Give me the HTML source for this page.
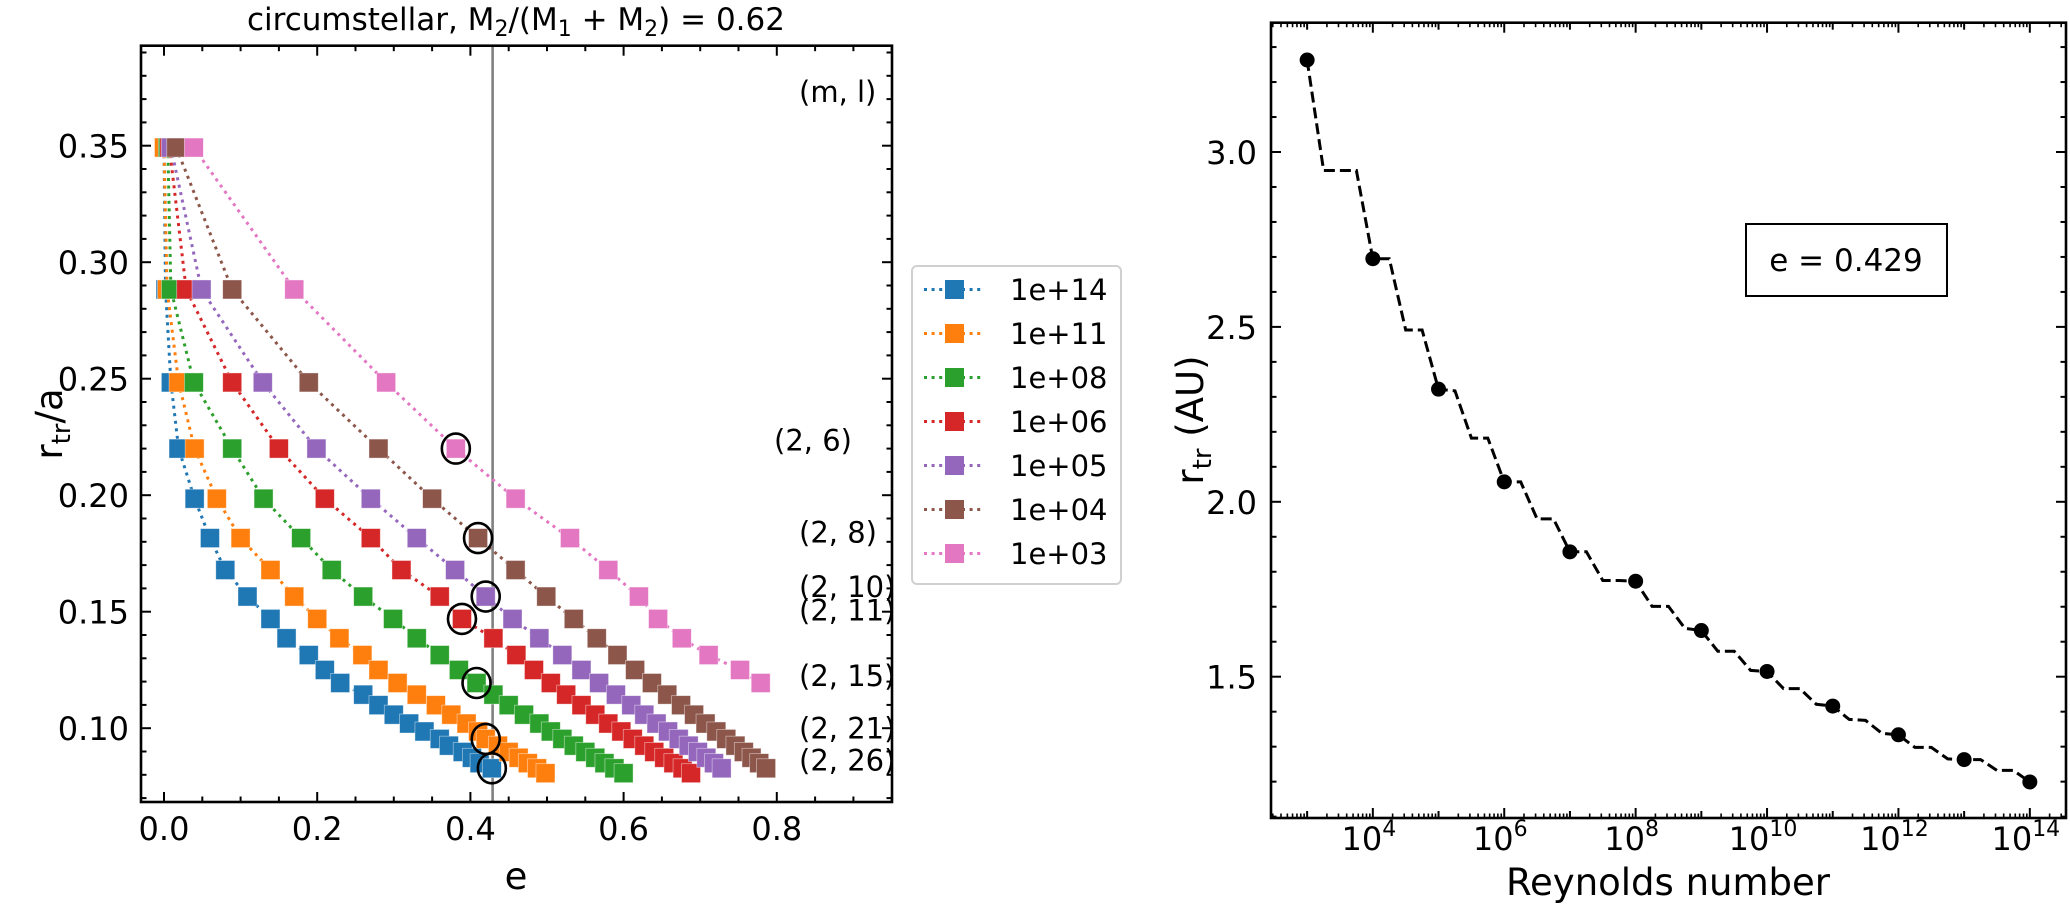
<!DOCTYPE html>
<html><head><meta charset="utf-8"><title>chart</title>
<style>
html,body{margin:0;padding:0;background:#fff;}
svg{display:block;font-family:"DejaVu Sans","Liberation Sans",sans-serif;}
</style></head>
<body>
<svg id="fig" width="2070" height="904" viewBox="0 0 2070 904" xmlns="http://www.w3.org/2000/svg">
<rect x="0" y="0" width="2070" height="904" fill="#fff"/>
<g id="left"></g>
<g id="right"></g>
</svg>
<script>
// ---------- Left chart data ----------
const lValues = [3,4,5,6,7,8,9,10,11,12,13,14,15,16,17,18,19,20,21,22,23,24,25,26,27];
const rLevels = [0.3492,0.2883,0.2484,0.2200,0.1985,0.1816,0.1679,0.1565,0.1469,0.1386,0.1314,0.1250,0.1194,0.1144,0.1099,0.1058,0.1020,0.0986,0.0954,0.0925,0.0898,0.0873,0.0850,0.0828,0.0807];
const seriesNames = ["1e+14","1e+11","1e+08","1e+06","1e+05","1e+04","1e+03"];
const eBlue   = [0.000,0.002,0.009,0.019,0.040,0.060,0.080,0.109,0.139,0.160,0.189,0.210,0.230,0.260,0.280,0.300,0.320,0.340,0.360,0.372,0.390,0.402,0.412,0.428];
const eOrange = [0.000,0.004,0.019,0.040,0.069,0.100,0.139,0.170,0.200,0.229,0.259,0.280,0.305,0.330,0.355,0.375,0.395,0.410,0.420,0.436,0.450,0.463,0.475,0.487,0.498];
const eGreen  = [0.005,0.009,0.039,0.089,0.130,0.179,0.219,0.260,0.299,0.330,0.360,0.385,0.408,0.430,0.450,0.470,0.490,0.505,0.520,0.535,0.550,0.563,0.575,0.588,0.600];
const eRed    = [0.007,0.029,0.089,0.150,0.210,0.270,0.310,0.360,0.389,0.430,0.460,0.483,0.505,0.525,0.545,0.563,0.580,0.597,0.612,0.627,0.640,0.653,0.665,0.677,0.688];
const ePurple = [0.009,0.049,0.129,0.199,0.270,0.330,0.380,0.420,0.455,0.490,0.520,0.545,0.568,0.590,0.610,0.627,0.643,0.658,0.672,0.685,0.697,0.708,0.718,0.728];
const eBrown  = [0.016,0.089,0.189,0.280,0.350,0.410,0.459,0.499,0.535,0.565,0.592,0.615,0.637,0.657,0.675,0.692,0.707,0.721,0.734,0.746,0.757,0.767,0.777,0.786];
const ePink   = [0.039,0.170,0.290,0.381,0.459,0.530,0.580,0.620,0.645,0.676,0.711,0.752,0.779];
const circledSeries = [6,5,4,3,2,1,0];
const circledL = [6,8,10,11,15,21,26];
const annoText = ["(m, l)","(2, 6)","(2, 8)","(2, 10)","(2, 11)","(2, 15)","(2, 21)","(2, 26)"];
const annoR = [0.373,0.2235,0.184,0.1605,0.1505,0.1225,0.0998,0.0861];
const eVline = 0.429;
const xTicksL = [0.0,0.2,0.4,0.6,0.8];
const yTicksL = [0.10,0.15,0.20,0.25,0.30,0.35];

// ---------- Right chart data ----------
const reLog = [3,4,5,6,7,8,9,10,11,12,13,14];
const rtrPoints = [3.263,2.695,2.322,2.057,1.857,1.773,1.632,1.515,1.416,1.334,1.263,1.199];
const stepLog = [3,3.25,3.5,3.75,4,4.25,4.5,4.75,5,5.25,5.5,5.75,6,6.25,6.5,6.75,7,7.25,7.5,7.75,8,8.25,8.5,8.75,9,9.25,9.5,9.75,10,10.25,10.5,10.75,11,11.25,11.5,11.75,12,12.25,12.5,12.75,13,13.25,13.5,13.75,14];
const stepVals = [3.263,2.947,2.947,2.947,2.695,2.695,2.491,2.491,2.322,2.317,2.182,2.182,2.057,2.057,1.951,1.951,1.857,1.857,1.775,1.775,1.773,1.701,1.701,1.638,1.632,1.573,1.573,1.518,1.515,1.466,1.466,1.421,1.416,1.378,1.375,1.338,1.334,1.298,1.298,1.265,1.263,1.263,1.232,1.232,1.199];
const xTicksR = [4,6,8,10,12,14];
const yTicksR = [1.5,2.0,2.5,3.0];

const NS = "http://www.w3.org/2000/svg";
function mk(parent, tag, attrs, text){
  const el = document.createElementNS(NS, tag);
  for (const k in attrs) el.setAttribute(k, attrs[k]);
  if (text !== undefined) el.textContent = text;
  parent.appendChild(el);
  return el;
}
const colors = ["#1f77b4","#ff7f0e","#2ca02c","#d62728","#9467bd","#8c564b","#e377c2"];
const allE = [eBlue,eOrange,eGreen,eRed,ePurple,eBrown,ePink];

// ---------- Left axes ----------
const L = document.getElementById("left");
const LX0=141, LX1=892, LY0=45.7, LY1=802;
const X = e => 164 + e*766;
const Y = r => 145.7 + (0.35 - r)*2330;

let vl = mk(L,"line",{x1:X(eVline),x2:X(eVline),y1:LY0,y2:LY1,stroke:"#808080","stroke-width":2.6});



for (let s=0; s<allE.length; s++){
  const g = mk(L,"g",{});
  
  
  const ev = allE[s];
  let d = "";
  for (let i=0;i<ev.length;i++){ d += (i?"L":"M")+X(ev[i]).toFixed(1)+","+Y(rLevels[i]).toFixed(1); }
  const ln = mk(g,"path",{d:d,fill:"none",stroke:colors[s],"stroke-width":3,"stroke-dasharray":"3 4.6"});
  
  
  for (let i=0;i<ev.length;i++){
    const sq = mk(g,"rect",{x:X(ev[i])-9.5,y:Y(rLevels[i])-9.5,width:19,height:19,fill:colors[s],stroke:"#fff","stroke-width":0.8,"stroke-opacity":0.5});
    
    
  }
}
for (let c=0;c<circledSeries.length;c++){
  const s = circledSeries[c];
  const idx = lValues.indexOf(circledL[c]);
  const ci = mk(L,"ellipse",{cx:X(allE[s][idx]),cy:Y(rLevels[idx]),rx:14,ry:15,fill:"none",stroke:"#000","stroke-width":2.6});
  
  
}
for (let a=0;a<annoText.length;a++){
  const xx = a===1 ? 774 : 799;
  const t = mk(L,"text",{x:xx,y:Y(annoR[a])+10,"font-size":29,"text-anchor":"start",fill:"#000"},annoText[a]);
  
  
}
let fr = mk(L,"rect",{x:LX0,y:LY0,width:LX1-LX0,height:LY1-LY0,fill:"none",stroke:"#000","stroke-width":2.6});


for (let k=0; k<=19; k++){
  const vv = k*0.05;
  const major = k%4===0;
  const len = major?10:5.5;
  mk(L,"line",{x1:X(vv),x2:X(vv),y1:LY1,y2:LY1-len,stroke:"#000","stroke-width":2});
  mk(L,"line",{x1:X(vv),x2:X(vv),y1:LY0,y2:LY0+len,stroke:"#000","stroke-width":2});
}
for (const v of xTicksL){
  const t = mk(L,"text",{x:X(v),y:840,"font-size":32,"text-anchor":"middle"},v.toFixed(1));
  
  
}
for (let k=7;k<=39;k++){
  const vv=k/100;
  const y=Y(vv);
  if (y<LY0||y>LY1) continue;
  const major = k%5===0;
  const len = major?10:5.5;
  mk(L,"line",{x1:LX0,x2:LX0+len,y1:y,y2:y,stroke:"#000","stroke-width":2});
  mk(L,"line",{x1:LX1,x2:LX1-len,y1:y,y2:y,stroke:"#000","stroke-width":2});
}
for (const v of yTicksL){
  const t = mk(L,"text",{x:129,y:Y(v)+12,"font-size":32,"text-anchor":"end"},v.toFixed(2));
  
  
}
</script>
<script>
(function(){
const L=document.getElementById("left");
L.insertAdjacentHTML("beforeend",
 '<text x="516" y="30" font-size="31" text-anchor="middle">circumstellar, M<tspan font-size="22" dy="6">2</tspan><tspan dy="-6">/(M</tspan><tspan font-size="22" dy="6">1</tspan><tspan dy="-6"> + M</tspan><tspan font-size="22" dy="6">2</tspan><tspan dy="-6">) = 0.62</tspan></text>'+
 '<text x="516" y="889" font-size="37" text-anchor="middle">e</text>'+
 '<text transform="translate(62,424) rotate(-90)" font-size="37" text-anchor="middle">r<tspan font-size="26" dy="8">tr</tspan><tspan dy="-8">/a</tspan></text>');
let h='<g><rect x="912" y="266" width="209" height="318" rx="5" fill="#fff" stroke="#d0d0d0" stroke-width="2"/>';
const cols=["#1f77b4","#ff7f0e","#2ca02c","#d62728","#9467bd","#8c564b","#e377c2"];
const names=["1e+14","1e+11","1e+08","1e+06","1e+05","1e+04","1e+03"];
for(let i=0;i<7;i++){const y=289.5+i*44;
 h+='<g><line x1="924" x2="983" y1="'+y+'" y2="'+y+'" stroke="'+cols[i]+'" stroke-width="3" stroke-dasharray="3 4.6"/><rect x="945" y="'+(y-9.5)+'" width="19" height="19" fill="'+cols[i]+'"/><text x="1010" y="'+(y+10.5)+'" font-size="29">'+names[i]+'</text></g>';}
h+='</g>';
L.insertAdjacentHTML("beforeend",h);
})();
</script>
<script>
(function(){
const R = document.getElementById("right");
const NS="http://www.w3.org/2000/svg";
function mk(parent, tag, attrs, text){const el=document.createElementNS(NS,tag);for(const k in attrs)el.setAttribute(k,attrs[k]);if(text!==undefined)el.textContent=text;parent.appendChild(el);return el;}
const RX0=1271, RX1=2066, RY0=22.7, RY1=818;
const XR = lg => 1271 + (lg-2.45)*65.7;
const YR = v => 152 + (3.0 - v)*349.8;
let d="";
for(let i=0;i<stepLog.length;i++){ d+=(i?"L":"M")+XR(stepLog[i]).toFixed(1)+","+YR(stepVals[i]).toFixed(1); }
const ln = mk(R,"path",{d:d,fill:"none",stroke:"#000","stroke-width":3,"stroke-dasharray":"11 5"});


for(let i=0;i<reLog.length;i++){
  const c = mk(R,"circle",{cx:XR(reLog[i]),cy:YR(rtrPoints[i]),r:7.5,fill:"#000"});
  
  
}
const fr = mk(R,"rect",{x:RX0,y:RY0,width:RX1-RX0,height:RY1-RY0,fill:"none",stroke:"#000","stroke-width":2.6});


for(let k=2;k<=14;k++){
  for(let m=1;m<=9;m++){
    const lg = k + Math.log10(m);
    if (lg<2.45 || lg>14.55) continue;
    let len;
    if (m===1) len = (k%2===0)?10:7; else len = 4.5;
    const x = XR(lg);
    mk(R,"line",{x1:x,x2:x,y1:RY1,y2:RY1-len,stroke:"#000","stroke-width":m===1?2:1.6});
    mk(R,"line",{x1:x,x2:x,y1:RY0,y2:RY0+len,stroke:"#000","stroke-width":m===1?2:1.6});
  }
}
for(let k=11;k<=33;k++){
  const v=k/10; const y=YR(v); if(y<RY0||y>RY1) continue;
  const major = k%5===0; const len=major?10:5.5;
  mk(R,"line",{x1:RX0,x2:RX0+len,y1:y,y2:y,stroke:"#000","stroke-width":2});
  mk(R,"line",{x1:RX1,x2:RX1-len,y1:y,y2:y,stroke:"#000","stroke-width":2});
}
for(const v of yTicksR){
  const t=mk(R,"text",{x:1257,y:YR(v)+12,"font-size":32,"text-anchor":"end"},v.toFixed(1));
  
  
}
for(const k of xTicksR){
  const t=mk(R,"text",{x:XR(k)-4,y:850,"font-size":32,"text-anchor":"middle"});
  
  
  const a=document.createElementNS(NS,"tspan"); a.textContent="10"; t.appendChild(a);
  const b=document.createElementNS(NS,"tspan"); b.setAttribute("font-size","22"); b.setAttribute("dy","-14"); b.textContent=String(k); t.appendChild(b);
}
R.insertAdjacentHTML("beforeend",
 '<g><rect x="1746" y="224" width="201" height="72" fill="#fff" stroke="#000" stroke-width="2"/><text x="1846" y="271" font-size="31" text-anchor="middle">e = 0.429</text></g>'+
 '<text x="1668" y="895" font-size="37" text-anchor="middle">Reynolds number</text>'+
 '<text transform="translate(1203,420) rotate(-90)" font-size="37" text-anchor="middle">r<tspan font-size="26" dy="8">tr</tspan><tspan dy="-8"> (AU)</tspan></text>');
})();
</script>
</body></html>
